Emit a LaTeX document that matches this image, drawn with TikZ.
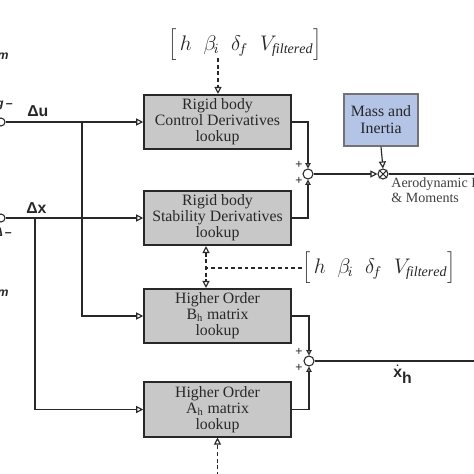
\documentclass[tikz,border=0pt]{standalone}
\usepackage{fontspec}
\setmainfont{Liberation Serif}
\setsansfont{Liberation Sans}
\usetikzlibrary{arrows.meta}
\definecolor{boxgray}{RGB}{200,200,200}
\definecolor{massblue}{RGB}{180,196,230}
\definecolor{ink}{RGB}{40,40,40}
\begin{document}
\begin{tikzpicture}[x=0.02cm,y=-0.02cm,
  blk/.style={draw=ink, line width=0.9pt, fill=boxgray, minimum width=2.94cm, minimum height=1.09cm, inner sep=0pt, align=center, font=\fontsize{9}{9.1}\selectfont, text=ink},
  massbox/.style={draw=black!55, line width=0.7pt, fill=massblue, minimum width=1.48cm, minimum height=1.04cm, inner sep=0pt, align=center, font=\fontsize{9}{9.6}\selectfont, text=black!85},
  sig/.style={draw=ink, line width=0.65pt},
  tip/.style={-{Triangle[open, length=4pt, width=4pt]}},
  smalltip/.style={-{Triangle[open, length=3pt, width=3pt]}},
  dsh/.style={draw=ink, line width=0.65pt, dash pattern=on 2.2pt off 1.6pt},
  sumc/.style={circle, draw=ink, line width=0.6pt, minimum size=0.2cm, inner sep=0pt},
  port/.style={circle, draw=ink, line width=0.6pt, minimum size=0.16cm, inner sep=0pt},
  lab/.style={font=\sffamily\bfseries\fontsize{9}{9}\selectfont, text=ink, inner sep=0pt},
  pl/.style={font=\sffamily\fontsize{7}{7}\selectfont, text=ink, inner sep=0pt},
  vec/.style={font=\fontsize{12}{13}\selectfont, text=ink, inner sep=0pt},
  frag/.style={font=\sffamily\bfseries\itshape\fontsize{7}{7}\selectfont, text=ink, inner sep=0pt, anchor=east}
]
\useasboundingbox (0,0) rectangle (474,474);
\clip (0,0) rectangle (474,474);
\fill[white] (0,0) rectangle (474,474);

% blocks
\node[blk] (b1) at (217.5,122) {Rigid body\\Control Derivatives\\lookup};
\node[blk] (b2) at (217.5,218) {Rigid body\\Stability Derivatives\\lookup};
\node[blk] (b3) at (217.5,316) {Higher Order\\B\textsubscript{h} matrix\\lookup};
\node[blk] (b4) at (217.5,409.5) {Higher Order\\A\textsubscript{h} matrix\\lookup};
\node[massbox] (mass) at (381,120) {Mass and\\Inertia};

% junctions
\node[sumc] (s1) at (308,174) {};
\node[sumc] (m1) at (383,174) {};
\draw[ink, line width=0.6pt] (m1.north east) -- (m1.south west) (m1.north west) -- (m1.south east);
\node[sumc] (s2) at (309,361) {};
\node[pl] (p1) at (299,165) {+};
\node[pl] (p2) at (299,181) {+};
\node[pl] (p3) at (299,352) {+};
\node[pl] (p4) at (299,368) {+};

% left ports
\node[port] (pu) at (1,122) {};
\node[port] (px) at (1,218) {};
\coordinate (ju) at (82,122);
\coordinate (jx) at (35,218);
\node[lab, anchor=base west] (lu) at (27,116) {Δu};
\node[lab, anchor=base west] (lx) at (26,213) {Δx};

% fragments at left edge
\node[frag] (f1) at (9,55) {lim};
\node[frag] (f2) at (13,105) {g\,–};
\node[frag] (f3) at (12,232) {Δ\,–};
\node[frag] (f4) at (9,292) {im};

% signals
\draw[sig, tip] (pu) -- (b1.west);
\draw[sig, tip] (ju) |- (b3.west);
\draw[sig, tip] (px) -- (b2.west);
\draw[sig, tip] (jx) |- (b4.west);
\draw[sig, smalltip] (b1.east) -| (s1.north);
\draw[sig, smalltip] (b2.east) -| (s1.south);
\draw[sig, tip] (s1.east) -- (m1.west);
\draw[sig, tip] (mass.south) -- (m1.north);
\coordinate (out1) at (474,174);
\draw[sig] (m1.east) -- (out1);
\draw[sig, smalltip] (b3.east) -| (s2.north);
\draw[sig, smalltip] (b4.east) -| (s2.south);
\coordinate (out2) at (474,361);
\draw[sig] (s2.east) -- (out2);

\node[font=\fontsize{8}{8}\selectfont, text=black!75, anchor=base west, inner sep=0pt] (aero) at (391,187) {Aerodynamic Forces};
\node[font=\fontsize{8}{8}\selectfont, text=black!75, anchor=base west, inner sep=0pt] (mom) at (391,202) {\& Moments};
\node[lab] (xh) at (403,374) {$\dot{\textsf{\textbf{x}}}_{\textsf{\textbf{h}}}$};

% scheduling vectors
\node[vec] (v1) at (245,45) {$\Bigl[\,h\;\;\beta_{\mkern-2mu i}\;\;\delta_{\mkern-2mu f}\;\;V_{\mathit{filtered}}\Bigr]$};
\coordinate (v1s) at (218,58);
\draw[dsh, tip] (v1s) -- (v1s |- b1.north);
\node[vec] (v2) at (379,268) {$\Bigl[\,h\;\;\beta_{\mkern-2mu i}\;\;\delta_{\mkern-2mu f}\;\;V_{\mathit{filtered}}\Bigr]$};
\coordinate (cv) at (206,268);
\draw[dsh] (v2.west) -- (cv);
\draw[dsh, {Triangle[open, length=4pt, width=4pt]}-{Triangle[open, length=4pt, width=4pt]}] (cv |- b2.south) -- (cv |- b3.north);
\coordinate (bt) at (217.5,476);
\draw[dsh, tip] (bt) -- (b4.south);
\end{tikzpicture}
\end{document}
